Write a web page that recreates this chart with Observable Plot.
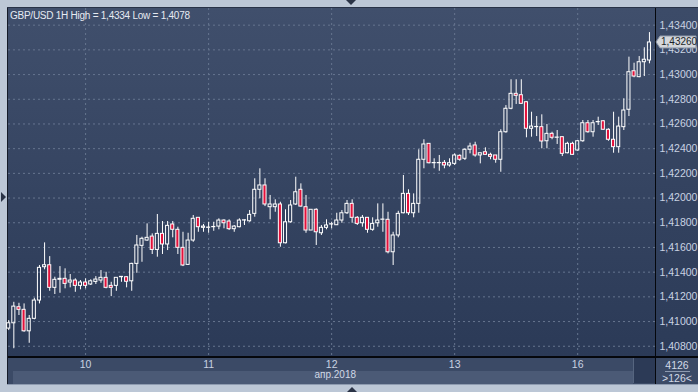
<!DOCTYPE html>
<html><head><meta charset="utf-8">
<script src="https://cdn.jsdelivr.net/npm/d3@7"></script>
<script src="https://cdn.jsdelivr.net/npm/@observablehq/plot@0.6"></script>
<style>
body{margin:0;background:#bcc7d6;font-family:"Liberation Sans",Arial,sans-serif;}
#wrap{position:relative;width:698px;height:392px;overflow:hidden;background:#bcc7d6;}
.abs{position:absolute;}
</style></head><body>
<div id="wrap">
  <div class="abs" style="left:8px;top:8px;width:647px;height:349px;background:linear-gradient(#404f6c,#2b3a57);"></div>
  <div class="abs" style="left:655px;top:8px;width:43px;height:349px;background:linear-gradient(#3c4b68,#2c3b58);"></div>
  <div class="abs" style="left:8px;top:357px;width:690px;height:27px;background:#3b4a66;"></div>
  <div class="abs" style="left:13px;top:371px;width:620px;height:13px;background:#4b5a76;"></div>
  <div class="abs" style="left:633px;top:358px;width:21px;height:25px;background:#2c3a56;border-left:1px solid #56657f;"></div>
  <div class="abs" style="left:7px;top:7px;width:1px;height:378px;background:#151b28;"></div>
  <div class="abs" style="left:7px;top:7px;width:691px;height:1px;background:#283247;"></div>
  <div class="abs" style="left:655px;top:8px;width:1px;height:376px;background:#05070c;"></div>
  <div class="abs" style="left:8px;top:356px;width:690px;height:2px;background:#05070c;"></div>
  <div class="abs" style="left:7px;top:384px;width:691px;height:1px;background:#8e9bb0;"></div>
  <div id="chart" class="abs" style="left:0;top:0;"></div>
  <div id="title" class="abs" style="left:10px;top:10px;font-size:10px;letter-spacing:-0.25px;color:#e6eaf2;white-space:nowrap;">GBP/USD 1H High = 1,4334 Low = 1,4078</div>
  <div class="abs" style="left:656px;top:359px;width:42px;text-align:center;font-size:10.5px;color:#d2d9e6;">4126</div>
  <div class="abs" style="left:665px;top:371px;width:25px;height:1px;background:#8d9ab0;"></div>
  <div class="abs" style="left:656px;top:372px;width:42px;text-align:center;font-size:10.5px;color:#d2d9e6;">&gt;126&lt;</div>
  <div class="abs" style="left:346px;top:0px;width:0;height:0;border-left:5px solid transparent;border-right:5px solid transparent;border-top:5px solid #2a3346;"></div>
  <div class="abs" style="left:1px;top:192px;width:0;height:0;border-top:5px solid transparent;border-bottom:5px solid transparent;border-left:5px solid #2a3346;"></div>
  <div class="abs" style="left:347px;top:387px;width:0;height:0;border-left:5px solid transparent;border-right:5px solid transparent;border-bottom:5px solid #2a3346;"></div>
</div>
<script>
// Hourly candles GBP/USD, 9 Apr 2018 09:00 → 16 Apr 2018
const open = [1.40943,1.40986,1.41116,1.41095,1.40921,1.41022,1.41170,1.41440,1.41456,1.41273,
1.41338,1.41346,1.41316,1.41332,1.41289,1.41316,1.41300,1.41321,1.41332,1.41354,
1.41289,1.41289,1.41359,1.41359,1.41326,1.41467,1.41613,1.41656,1.41688,1.41580,
1.41710,1.41624,1.41786,1.41743,1.41597,1.41459,1.41656,1.41840,1.41759,1.41759,
1.41764,1.41769,1.41818,1.41810,1.41748,1.41764,1.41818,1.41812,1.41872,1.42067,
1.42102,1.41926,1.41926,1.41948,1.41634,1.41804,1.41948,1.42067,1.41926,1.41737,
1.41905,1.41715,1.41759,1.41786,1.41780,1.41818,1.41877,1.41953,1.41840,1.41796,
1.41840,1.41743,1.41796,1.41824,1.41824,1.41561,1.41697,1.41877,1.42034,1.41877,
1.41953,1.42310,1.42439,1.42282,1.42282,1.42285,1.42264,1.42277,1.42342,1.42318,
1.42391,1.42426,1.42345,1.42371,1.42350,1.42345,1.42310,1.42533,1.42723,1.42844,
1.42833,1.42776,1.42561,1.42574,1.42574,1.42460,1.42520,1.42488,1.42493,1.42363,
1.42439,1.42385,1.42460,1.42606,1.42533,1.42614,1.42622,1.42553,1.42472,1.42412,
1.42574,1.42715,1.43027,1.42979,1.43100,1.43114];
const high = [1.41008,1.41156,1.41148,1.41143,1.41049,1.41189,1.41454,1.41637,1.41526,1.41359,
1.41445,1.41427,1.41381,1.41346,1.41332,1.41346,1.41338,1.41364,1.41413,1.41399,
1.41318,1.41354,1.41364,1.41364,1.41472,1.41697,1.41683,1.41791,1.41710,1.41867,
1.41810,1.41810,1.41810,1.41764,1.41723,1.41715,1.41859,1.41840,1.41786,1.41804,
1.41804,1.41832,1.41824,1.41824,1.41778,1.41832,1.41824,1.41899,1.42156,1.42237,
1.42156,1.42021,1.41986,1.41966,1.41905,1.41980,1.42169,1.42115,1.42021,1.41905,
1.41913,1.41778,1.41824,1.41804,1.41877,1.41899,1.41980,1.41986,1.41850,1.41859,
1.41840,1.41840,1.41953,1.41953,1.41885,1.41723,1.41893,1.42183,1.42067,1.42034,
1.42391,1.42472,1.42439,1.42318,1.42345,1.42304,1.42318,1.42358,1.42350,1.42399,
1.42444,1.42452,1.42363,1.42407,1.42363,1.42345,1.42553,1.42749,1.42958,1.42958,
1.42958,1.42782,1.42695,1.42660,1.42674,1.42596,1.42533,1.42547,1.42498,1.42452,
1.42452,1.42466,1.42628,1.42628,1.42628,1.42655,1.42628,1.42561,1.42695,1.42655,
1.42804,1.43141,1.43092,1.43146,1.43217,1.43340];
const low = [1.40927,1.40780,1.41049,1.40913,1.40824,1.41014,1.41143,1.41419,1.41245,1.41219,
1.41229,1.41265,1.41273,1.41237,1.41257,1.41265,1.41292,1.41300,1.41310,1.41265,
1.41202,1.41245,1.41318,1.41273,1.41245,1.41391,1.41480,1.41650,1.41543,1.41521,
1.41543,1.41575,1.41678,1.41543,1.41445,1.41454,1.41642,1.41723,1.41723,1.41715,
1.41731,1.41743,1.41751,1.41737,1.41723,1.41759,1.41778,1.41804,1.41845,1.41994,
1.41931,1.41824,1.41885,1.41602,1.41629,1.41796,1.41940,1.41926,1.41715,1.41737,
1.41616,1.41697,1.41743,1.41751,1.41778,1.41796,1.41867,1.41796,1.41778,1.41764,
1.41715,1.41731,1.41764,1.41723,1.41548,1.41454,1.41678,1.41872,1.41859,1.41840,
1.41877,1.42237,1.42277,1.42237,1.42217,1.42237,1.42250,1.42264,1.42298,1.42304,
1.42358,1.42331,1.42277,1.42345,1.42310,1.42282,1.42209,1.42525,1.42715,1.42758,
1.42758,1.42488,1.42493,1.42498,1.42399,1.42399,1.42472,1.42434,1.42336,1.42358,
1.42345,1.42379,1.42452,1.42525,1.42493,1.42588,1.42547,1.42460,1.42363,1.42363,
1.42547,1.42660,1.42974,1.42974,1.42984,1.43087];
const close = [1.40986,1.41121,1.41095,1.40921,1.41022,1.41170,1.41435,1.41456,1.41273,1.41338,
1.41346,1.41305,1.41332,1.41289,1.41316,1.41289,1.41326,1.41340,1.41354,1.41273,
1.41273,1.41354,1.41362,1.41322,1.41467,1.41616,1.41670,1.41678,1.41580,1.41710,
1.41624,1.41775,1.41743,1.41597,1.41454,1.41656,1.41832,1.41764,1.41769,1.41761,
1.41766,1.41818,1.41796,1.41748,1.41769,1.41818,1.41820,1.41864,1.42067,1.42102,
1.41948,1.41948,1.41948,1.41634,1.41804,1.41940,1.42047,1.41931,1.41737,1.41905,
1.41723,1.41759,1.41778,1.41788,1.41818,1.41877,1.41953,1.41840,1.41791,1.41840,
1.41743,1.41791,1.41818,1.41826,1.41561,1.41697,1.41872,1.42034,1.41877,1.41953,
1.42310,1.42434,1.42282,1.42284,1.42284,1.42264,1.42282,1.42345,1.42310,1.42391,
1.42417,1.42345,1.42363,1.42350,1.42334,1.42310,1.42533,1.42723,1.42844,1.42828,
1.42763,1.42561,1.42579,1.42576,1.42458,1.42520,1.42488,1.42490,1.42358,1.42439,
1.42350,1.42460,1.42606,1.42533,1.42606,1.42616,1.42553,1.42472,1.42412,1.42579,
1.42709,1.43019,1.42984,1.43100,1.43120,1.43260];

const dayIdx = [15, 39, 63, 87, 111];            // candle index at 00:00 of each day
const dayLabels = ["10", "11", "12", "13", "16"];
const monthLabel = "апр.2018";
const monthAt = 63.7;
const yTicks = [1.408,1.410,1.412,1.414,1.416,1.418,1.420,1.422,1.424,1.426,1.428,1.430,1.432,1.434];
const lastPrice = close[close.length - 1];

const candles = open.map((o, i) => ({i, o, h: high[i], l: low[i], c: close[i]}));
const fmt = d => d.toFixed(5).replace(".", ",");
const gridColor = "#66758f";

const chart = Plot.plot({
  width: 698, height: 392,
  marginLeft: 8, marginRight: 43, marginTop: 8, marginBottom: 36,
  style: {background: "transparent", fontFamily: '"Liberation Sans",Arial,sans-serif', fontSize: "10.5px", color: "#c9d2e2", overflow: "visible"},
  x: {domain: [-0.04, 126.18], ticks: dayIdx, tickFormat: i => dayLabels[dayIdx.indexOf(i)], tickSize: 0, tickPadding: 4, label: null},
  y: {domain: [1.40717, 1.43535], axis: "right", ticks: yTicks, tickFormat: fmt, tickSize: 0, tickPadding: 4, label: null},
  marks: [
    Plot.ruleY(yTicks, {stroke: gridColor, strokeDasharray: "2,3"}),
    Plot.ruleX(dayIdx, {stroke: gridColor, strokeDasharray: "2,3"}),
    Plot.ruleX(candles, {x: "i", y1: "h", y2: d => Math.max(d.o, d.c), stroke: "#ffffff"}),
    Plot.ruleX(candles, {x: "i", y1: d => Math.min(d.o, d.c), y2: "l", stroke: "#ffffff"}),
    Plot.rect(candles, {x1: d => d.i - 0.3, x2: d => d.i + 0.3, y1: "o", y2: "c",
      fill: d => d.c < d.o ? "#e3113b" : "none", stroke: "#ffffff", strokeWidth: 1}),
    Plot.text([monthLabel], {x: () => monthAt, text: d => d, frameAnchor: "bottom", dy: 21.5, fill: "#d0d8e6", fontSize: 10})
  ]
});
document.getElementById("chart").appendChild(chart);

// last-price marker on the right axis
const ys = chart.scale("y").apply(lastPrice);
const svg = d3.select(chart);
svg.append("polygon")
  .attr("points", `656,${ys} 660,${ys-6} 696,${ys-6} 696,${ys+6} 660,${ys+6}`)
  .attr("fill", "#d4d7dc").attr("stroke", "#8c95a5");
svg.append("text").attr("x", 661).attr("y", ys).attr("dy", "0.35em")
  .attr("text-anchor", "start").attr("fill", "#1b1f28")
  .style("font-size", "10px").text(fmt(lastPrice));
</script>
</body></html>
